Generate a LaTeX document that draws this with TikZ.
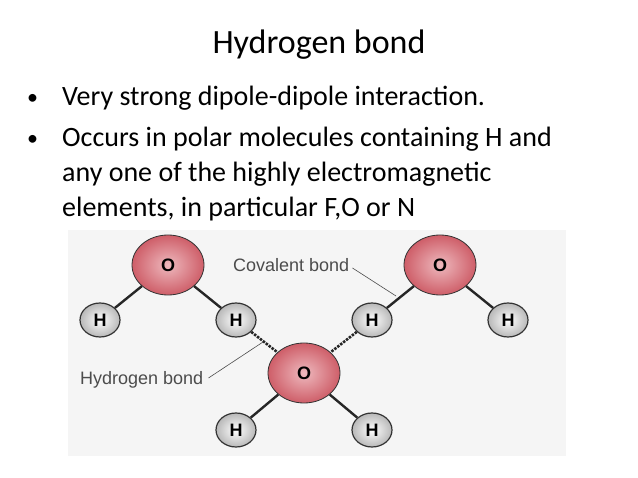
\documentclass[tikz,border=0pt]{standalone}
\usepackage{fontspec}
\setmainfont{Carlito}
\setsansfont{Liberation Sans}
\usetikzlibrary{shapes.geometric}
\definecolor{ored}{HTML}{D9636E}
\definecolor{hgrey}{HTML}{E6E6E6}
\tikzset{
 oatom/.style={ellipse,draw=black!80,line width=0.8pt,minimum width=72pt,minimum height=60pt,inner sep=0pt,
   shade,inner color=ored!45,outer color=ored!95!black,font=\sffamily\bfseries\fontsize{18}{18}\selectfont},
 hatom/.style={ellipse,draw=black!80,line width=1.2pt,minimum width=40pt,minimum height=34pt,inner sep=0pt,
   shade,inner color=white,outer color=hgrey!80!black,font=\sffamily\bfseries\fontsize{18}{18}\selectfont},
 cbond/.style={line width=2.4pt,black!85},
 hbond/.style={line width=2.6pt,black!85,dash pattern=on 2.5pt off 1.2pt},
 lbl/.style={font=\sffamily\fontsize{18}{18}\selectfont,text=black!70,inner sep=1pt},
 lead/.style={black!70,line width=0.6pt},
 bul/.style={anchor=base west,inner sep=0pt,font=\fontsize{28}{32}\selectfont}
}
\begin{document}
\begin{tikzpicture}[x=1pt,y=-1pt]
\useasboundingbox[fill=white] (0,0) rectangle (638,478);
\fill[black!4] (68,230) rectangle (566,456);
\node[font=\fontsize{34}{38}\selectfont] (t) at (319,45) {Hydrogen bond};
\node[bul,font=\fontsize{22}{24}\selectfont] (b1) at (27,105) {•};
\node[bul] (l1) at (62,106) {Very strong dipole-dipole interaction.};
\node[bul,font=\fontsize{22}{24}\selectfont] (b2) at (27,146) {•};
\node[bul] (l2) at (62,147) {Occurs in polar molecules containing H and};
\node[bul] (l3) at (62,182) {any one of the highly electromagnetic};
\node[bul] (l4) at (62,217) {elements, in particular F,O or N};
\node[oatom] (o1) at (168,265) {O};
\node[oatom] (o2) at (440,265) {O};
\node[oatom] (o3) at (304,373) {O};
\node[hatom] (h1) at (100,320) {H};
\node[hatom] (h2) at (236,320) {H};
\node[hatom] (h3) at (372,320) {H};
\node[hatom] (h4) at (508,320) {H};
\node[hatom] (h5) at (236,430) {H};
\node[hatom] (h6) at (372,430) {H};
\draw[cbond] (o1) -- (h1); \draw[cbond] (o1) -- (h2);
\draw[cbond] (o2) -- (h3); \draw[cbond] (o2) -- (h4);
\draw[cbond] (o3) -- (h5); \draw[cbond] (o3) -- (h6);
\draw[hbond] (h2) -- (o3); \draw[hbond] (h3) -- (o3);
\node[lbl,anchor=west] (cb) at (232,265) {Covalent bond};
\node[lbl,anchor=west] (hb) at (79,380) {Hydrogen bond};
\coordinate (cbe) at (396,296);
\coordinate (hbe) at (263,342);
\draw[lead] (cb.east) ++(2,3) -- (cbe);
\draw[lead] (hb.east) ++(4,-2) -- (hbe);
\end{tikzpicture}
\end{document}
